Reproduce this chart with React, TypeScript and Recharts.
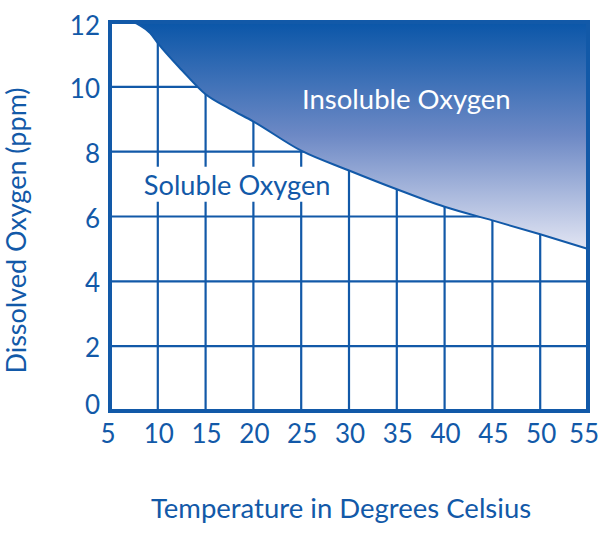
import React from "react";
import {
  ComposedChart,
  Area,
  XAxis,
  YAxis,
  CartesianGrid,
  ReferenceLine,
  ReferenceDot,
  Label,
} from "recharts";

// Temperature (°C) and dissolved oxygen (ppm)
const temperatures = [5, 7.3, 8.2, 9.2, 10, 12.5, 15, 17.5, 20, 25, 30, 35, 40, 45, 50, 55];
const dissolvedOxygen = [12, 12, 11.88, 11.66, 11.35, 10.52, 9.77, 9.33, 8.93, 8.03, 7.42, 6.84, 6.3, 5.88, 5.45, 5.0];
const saturationCap = 12;

const xTicks = [5, 10, 15, 20, 25, 30, 35, 40, 45, 50, 55];
const yTicks = [0, 2, 4, 6, 8, 10, 12];

const xTitle = "Temperature in Degrees Celsius";
const yTitle = "Dissolved Oxygen (ppm)";
const insolubleText = "Insoluble Oxygen";
const solubleText = "Soluble Oxygen";
const insolublePos = { t: 36, v: 9.63 };
const solublePos = { t: 18.3, v: 6.98 };

const data = temperatures.map((t, i) => ({
  t,
  range: [dissolvedOxygen[i], saturationCap],
}));

const BLUE = "#1259a8";
const FONT = "Lato, 'Open Sans', sans-serif";

const YTick = (props: any) => {
  const { x, y, payload } = props;
  const dy = payload.value === 0 ? -7 : payload.value === 12 ? 3 : 1;
  return (
    <text x={x} y={y + dy} textAnchor="end" dominantBaseline="central" fill={BLUE} fontSize={26} fontFamily={FONT}>
      {payload.value}
    </text>
  );
};

const XTick = (props: any) => {
  const { x, y, payload } = props;
  const dx = payload.value === 55 ? -4 : payload.value === 5 ? -2 : 1;
  return (
    <text x={x + dx} y={y} textAnchor="middle" dominantBaseline="hanging" fill={BLUE} fontSize={26} fontFamily={FONT}>
      {payload.value}
    </text>
  );
};

export default function App() {
  return (
    <div style={{ position: "absolute", left: 0, top: 0, width: 600, height: 542, background: "#fff" }}>
      <ComposedChart
        width={600}
        height={542}
        data={data}
        margin={{ top: 22, right: 12, left: 0, bottom: 0 }}
      >
        <defs>
          <linearGradient id="insol" x1="0" y1="0" x2="0" y2="1">
            <stop offset="0%" stopColor="#0a56a8" />
            <stop offset="50%" stopColor="#6d89c5" />
            <stop offset="100%" stopColor="#e2e5f3" />
          </linearGradient>
        </defs>
        <CartesianGrid stroke={BLUE} strokeWidth={2.2} />
        <XAxis
          dataKey="t"
          type="number"
          domain={[5, 55]}
          ticks={xTicks}
          height={131}
          tickLine={false}
          tickSize={0}
          tickMargin={11}
          axisLine={{ stroke: BLUE, strokeWidth: 4, strokeLinecap: "square" }}
          tick={<XTick />}
          interval={0}
        >
          <Label
            content={(p: any) => {
              const vb = p.viewBox;
              return (
                <text x={vb.x + vb.width / 2 - 8} y={vb.y + 107} textAnchor="middle" fill={BLUE} fontSize={27.5} fontFamily={FONT}>
                  {xTitle}
                </text>
              );
            }}
          />
        </XAxis>
        <YAxis
          type="number"
          domain={[0, 12]}
          ticks={yTicks}
          width={110}
          tickLine={false}
          tickSize={0}
          tickMargin={10}
          axisLine={{ stroke: BLUE, strokeWidth: 4, strokeLinecap: "square" }}
          tick={<YTick />}
          interval={0}
        >
          <Label
            content={(p: any) => {
              const vb = p.viewBox;
              const cx = 15;
              const cy = vb.y + vb.height / 2 + 14;
              return (
                <text x={cx} y={cy} transform={`rotate(-90 ${cx} ${cy})`} textAnchor="middle" dominantBaseline="central" fill={BLUE} fontSize={27} fontFamily={FONT}>
                  {yTitle}
                </text>
              );
            }}
          />
        </YAxis>
        <Area
          dataKey="range"
          type="monotone"
          stroke={BLUE}
          strokeWidth={2}
          fill="url(#insol)"
          fillOpacity={1}
          isAnimationActive={false}
          dot={false}
          activeDot={false}
        />
        <ReferenceLine y={12} stroke={BLUE} strokeWidth={4} strokeLinecap="square" />
        <ReferenceLine x={55} stroke={BLUE} strokeWidth={4} strokeLinecap="square" />
        <ReferenceDot
          x={insolublePos.t}
          y={insolublePos.v}
          r={1}
          fill="none"
          stroke="none"
          label={(p: any) => {
            const vb = p.viewBox;
            const cx = vb.x + vb.width / 2;
            const cy = vb.y + vb.height / 2;
            return (
              <text x={cx} y={cy} textAnchor="middle" dominantBaseline="central" fill="#ffffff" fontSize={27.5} fontFamily={FONT}>
                {insolubleText}
              </text>
            );
          }}
        />
        <ReferenceDot
          x={solublePos.t}
          y={solublePos.v}
          r={1}
          fill="none"
          stroke="none"
          label={(p: any) => {
            const vb = p.viewBox;
            const cx = vb.x + vb.width / 2;
            const cy = vb.y + vb.height / 2;
            return (
              <g>
                <rect x={cx - 96} y={cy - 18} width={180} height={35} fill="#ffffff" />
                <text x={cx} y={cy} textAnchor="middle" dominantBaseline="central" fill={BLUE} fontSize={27.2} fontFamily={FONT}>
                  {solubleText}
                </text>
              </g>
            );
          }}
        />
      </ComposedChart>
    </div>
  );
}
